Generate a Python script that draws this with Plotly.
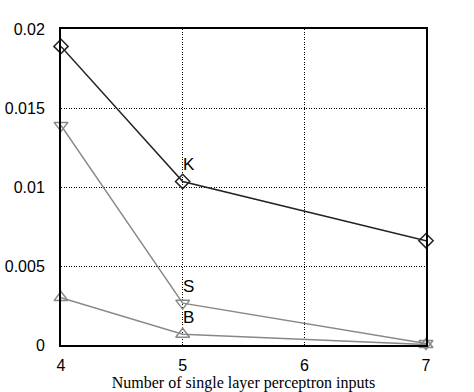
import plotly.graph_objects as go

x_vals = [4, 5, 7]
k_vals = [0.0189, 0.01035, 0.0066]
s_vals = [0.0139, 0.00265, 0.0001]
b_vals = [0.0030, 0.00068, 0.00003]
y_ticks = [0, 0.005, 0.01, 0.015, 0.02]
y_tick_text = ["0", "0.005", "0.01", "0.015", "0.02"]
x_ticks = [4, 5, 6, 7]
labels = ["K", "S", "B"]

fig = go.Figure()
fig.add_trace(go.Scatter(x=x_vals, y=k_vals, mode="lines+markers",
                         line=dict(color="#222222", width=1.5),
                         marker=dict(symbol="diamond-open", size=11, color="#222222", line=dict(width=1.5)),
                         cliponaxis=False, showlegend=False))
fig.add_trace(go.Scatter(x=x_vals, y=s_vals, mode="lines+markers",
                         line=dict(color="#888888", width=1.5),
                         marker=dict(symbol="triangle-down-open", size=12, color="#888888", line=dict(width=1.5)),
                         cliponaxis=False, showlegend=False))
fig.add_trace(go.Scatter(x=x_vals, y=b_vals, mode="lines+markers",
                         line=dict(color="#888888", width=1.5),
                         marker=dict(symbol="triangle-up-open", size=12, color="#888888", line=dict(width=1.5)),
                         cliponaxis=False, showlegend=False))

for lab, series in zip(labels, [k_vals, s_vals, b_vals]):
    fig.add_annotation(x=x_vals[1], y=series[1], text=lab, showarrow=False,
                       xanchor="left", yanchor="bottom", xshift=-2, yshift=5,
                       font=dict(family="Liberation Sans, Arial", size=17, color="black"))

fig.update_layout(
    width=474, height=392,
    margin=dict(l=61, r=48, t=29, b=47),
    plot_bgcolor="white", paper_bgcolor="white",
    font=dict(family="Liberation Sans, Arial", size=16, color="black"),
)
fig.update_xaxes(range=[4, 7], tickvals=x_ticks, showgrid=True, gridcolor="black", griddash="1px,1.5px",
                 gridwidth=1, showline=True, linecolor="black", linewidth=2, mirror=True,
                 ticks="", zeroline=False, automargin=False, ticklabelstandoff=5,
                 title=dict(text="Number of single layer perceptron inputs",
                            font=dict(family="Liberation Serif, Times New Roman", size=16), standoff=13))
fig.update_yaxes(range=[0, 0.02], tickvals=y_ticks, ticktext=y_tick_text, showgrid=True, gridcolor="black",
                 griddash="1px,1.5px", gridwidth=1, showline=True, linecolor="black", linewidth=2, mirror=True,
                 ticks="", zeroline=False, automargin=False, ticklabelstandoff=11)

fig.write_html("out.html", config={"displayModeBar": False},
               post_script="document.body.style.margin='0';")
